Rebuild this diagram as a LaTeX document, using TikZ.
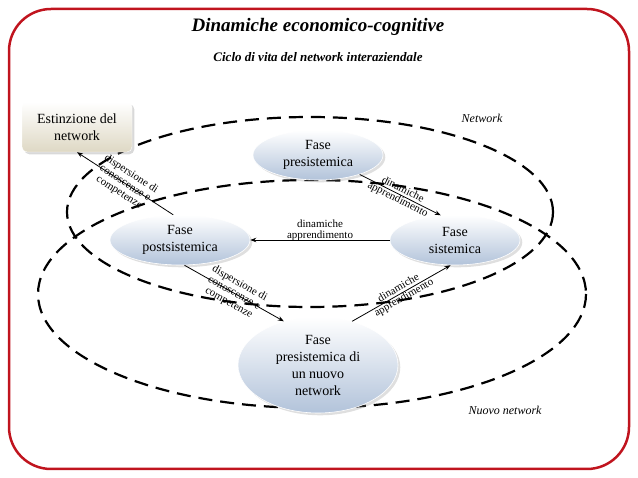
\documentclass[tikz,border=0pt]{standalone}
\usepackage{fontspec}
\setmainfont{Liberation Serif}
\usetikzlibrary{shapes.geometric,shadows,arrows.meta}
\definecolor{frame}{RGB}{192,20,30}
\definecolor{ellb}{RGB}{178,195,218}
\definecolor{boxb}{RGB}{222,216,196}
\begin{document}
\begin{tikzpicture}[x=1pt,y=-1pt,
  phase/.style={ellipse,draw=white,line width=0.6pt,top color=white,bottom color=ellb,
     drop shadow={opacity=0.25},align=center,font=\fontsize{14}{17}\selectfont,inner sep=0pt},
  dashring/.style={line width=2.2pt,dash pattern=on 14pt off 8pt},
  arr/.style={-{Stealth[length=6pt]},line width=0.8pt},
  lab/.style={font=\fontsize{11}{11}\selectfont,align=center,inner sep=1pt}]
\useasboundingbox (0,0) rectangle (638,478);
\draw[frame,line width=2.5pt,rounded corners=42pt] (9,9) rectangle (629,469);
\node[font=\bfseries\itshape\fontsize{19}{22}\selectfont] (t1) at (318,27) {Dinamiche economico-cognitive};
\node[font=\bfseries\itshape\fontsize{13}{15}\selectfont] (t2) at (318,57) {Ciclo di vita del network interaziendale};
% ellipses
\draw[dashring] (310,212) ellipse [x radius=243, y radius=95];
\draw[dashring] (312,294) ellipse [x radius=274, y radius=114];
\node[draw=white,rounded corners=5pt,top color=white,bottom color=boxb,drop shadow={opacity=0.3},
  minimum width=110pt,minimum height=50pt,align=center,font=\fontsize{14}{17}\selectfont,inner sep=0pt]
  (ext) at (77,127) {Estinzione del\\network};
\node[phase,minimum width=130pt,minimum height=50pt] (pre) at (318,155) {Fase\\presistemica};
\node[phase,minimum width=140pt,minimum height=50pt] (post) at (180,240) {Fase\\postsistemica};
\node[phase,minimum width=130pt,minimum height=50pt] (sis) at (455,240) {Fase\\sistemica};
\node[phase,minimum width=160pt,minimum height=96pt] (new) at (318,365) {Fase\\presistemica di\\un nuovo\\network};
\node[font=\itshape\fontsize{12}{14}\selectfont] (nw) at (482,118) {Network};
\node[font=\itshape\fontsize{12}{14}\selectfont] (nnw) at (505,410) {Nuovo network};
% arrows
\draw[arr] (pre.-25) -- (sis.120) node[lab,midway,sloped] {dinamiche\\apprendimento};
\draw[arr] (sis.west) -- (post.east) node[lab,midway,above=-2pt] {dinamiche\\apprendimento};
\draw[arr] (post.105) -- (ext.south) node[lab,midway,sloped] {dispersione di\\conoscenze e\\competenze};
\draw[arr] (post.-80) -- (new.128) node[lab,midway,sloped] {dispersione di\\conoscenze e\\competenze};
\draw[arr] (new.52) -- (sis.-100) node[lab,midway,sloped] {dinamiche\\apprendimento};
\end{tikzpicture}
\end{document}
